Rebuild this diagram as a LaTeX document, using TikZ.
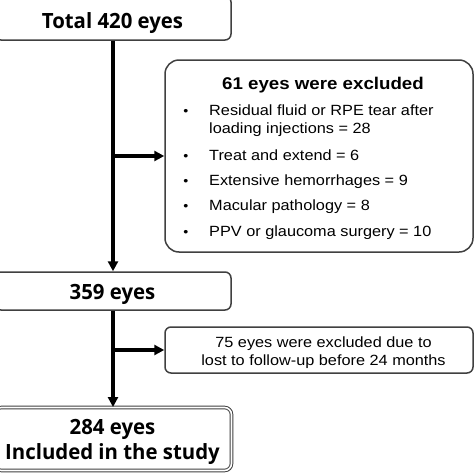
\documentclass[tikz,border=0pt]{standalone}
\usepackage{fontspec}
\setmainfont{Liberation Sans}[FakeStretch=1.1]
\newfontfamily\boldfont{Open Sans}[FakeStretch=0.97]
\usetikzlibrary{arrows.meta}
\begin{document}
\begin{tikzpicture}[x=1pt,y=-1pt,
  box/.style={draw=black!75, line width=1.5pt, rounded corners=6pt, inner sep=0pt},
  bigbox/.style={draw=black!75, line width=1.5pt, rounded corners=14pt, inner sep=0pt},
  dbox/.style={draw=black!75, double=white, double distance=1.6pt, line width=1pt, rounded corners=7pt, inner sep=0pt},
  arr/.style={line width=3.2pt, -{Triangle[length=10pt,width=10pt]}},
  ttl/.style={font=\boldfont\bfseries\fontsize{21}{25}\selectfont, anchor=base, inner sep=0pt},
  itm/.style={font=\fontsize{14.8}{17}\selectfont, anchor=base west, inner sep=0pt},
  bul/.style={font=\fontsize{13}{15}\selectfont, anchor=base, inner sep=0pt}]
\useasboundingbox (0,0) rectangle (474,474);
\clip (0,0) rectangle (474,474);
\fill[white] (0,0) rectangle (474,474);
% boxes
\node[box, minimum width=236pt, minimum height=44pt] (A) at (113,18) {};
\node[bigbox, minimum width=308pt, minimum height=192pt] (E) at (319,156) {};
\node[box, minimum width=236pt, minimum height=38pt] (B) at (113,291) {};
\node[box, minimum width=308pt, minimum height=46pt] (C) at (319,350) {};
\node[dbox, minimum width=237pt, minimum height=63pt] (D) at (113,439) {};
% texts
\node[ttl] (tA) at (112.5,28) {Total 420 eyes};
\node[ttl] (tB) at (112.5,299.5) {359 eyes};
\node[ttl] (tD1) at (112.5,434) {284 eyes};
\node[ttl] (tD2) at (112.5,459.5) {Included in the study};
\node[font=\bfseries\fontsize{17}{20}\selectfont, anchor=base, inner sep=0pt] (h) at (323,89) {61 eyes were excluded};
\node[bul] (b1) at (186,115.5) {•};
\node[itm] (i1a) at (209,115.5) {Residual fluid or RPE tear after};
\node[itm] (i1b) at (209,133) {loading injections = 28};
\node[bul] (b2) at (186,160) {•};
\node[itm] (i2) at (209,160) {Treat and extend = 6};
\node[bul] (b3) at (186,185) {•};
\node[itm] (i3) at (209,185) {Extensive hemorrhages = 9};
\node[bul] (b4) at (186,210) {•};
\node[itm] (i4) at (209,210) {Macular pathology = 8};
\node[bul] (b5) at (186,236) {•};
\node[itm] (i5) at (209,236) {PPV or glaucoma surgery = 10};
\node[font=\fontsize{14.8}{17}\selectfont, anchor=base, inner sep=0pt] (c1) at (323.5,347) {75 eyes were excluded due to};
\node[font=\fontsize{14.8}{17}\selectfont, anchor=base, inner sep=0pt] (c2) at (323.5,365) {lost to follow-up before 24 months};
% connectors
\draw[arr] (A.south) -- (B.north);
\draw[arr] (A.south |- E.west) -- (E.west);
\draw[arr] (B.south) -- (D.north);
\draw[arr] (B.south |- C.west) -- (C.west);
\end{tikzpicture}
\end{document}
